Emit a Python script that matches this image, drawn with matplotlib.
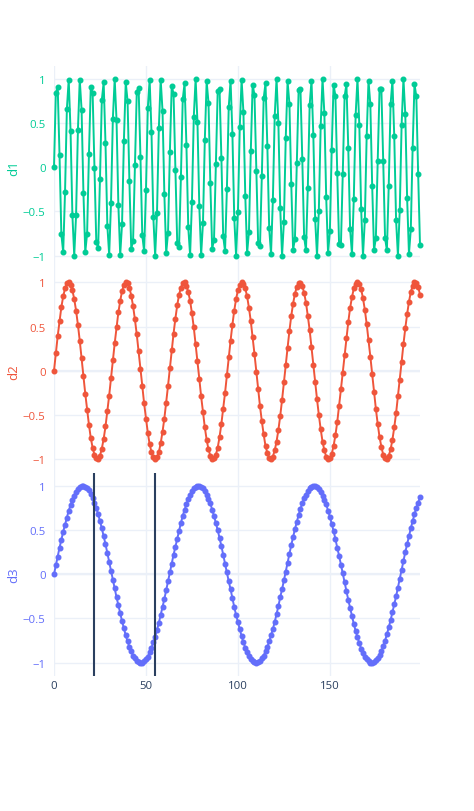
#!/usr/bin/env python3
# -*- coding: utf-8 -*-
"""Three stacked traces d1/d2/d3 sharing one x axis, with two markers on d3."""

import matplotlib

matplotlib.use("Agg")

import matplotlib.pyplot as plt
from matplotlib.ticker import FuncFormatter


X_VALUES = list(range(200))

D1_VALUES = [
    0.00, 0.84, 0.91, 0.14, -0.76, -0.96, -0.28,
    0.66, 0.99, 0.41, -0.54, -1.00, -0.54,
    0.42, 0.99, 0.65, -0.29, -0.96, -0.75,
    0.15, 0.91, 0.84, -0.01, -0.85, -0.91, -0.13,
    0.76, 0.96, 0.27, -0.66, -0.99, -0.40,
    0.55, 1.00, 0.53, -0.43, -0.99, -0.64,
    0.30, 0.96, 0.75, -0.16, -0.92, -0.83,
    0.02, 0.85, 0.90, 0.12, -0.77, -0.95, -0.26,
    0.67, 0.99, 0.40, -0.56, -1.00, -0.52,
    0.44, 0.99, 0.64, -0.30, -0.97, -0.74,
    0.17, 0.92, 0.83, -0.03, -0.86, -0.90, -0.11,
    0.77, 0.95, 0.25, -0.68, -0.99, -0.39,
    0.57, 1.00, 0.51, -0.44, -0.99, -0.63,
    0.31, 0.97, 0.73, -0.18, -0.92, -0.82,
    0.04, 0.86, 0.89, 0.11, -0.78, -0.95, -0.25,
    0.68, 0.98, 0.38, -0.57, -1.00, -0.51,
    0.45, 0.99, 0.62, -0.32, -0.97, -0.73,
    0.18, 0.93, 0.82, -0.04, -0.86, -0.89, -0.10,
    0.78, 0.95, 0.24, -0.69, -0.98, -0.37,
    0.58, 1.00, 0.50, -0.46, -1.00, -0.62,
    0.33, 0.97, 0.72, -0.19, -0.93, -0.81,
    0.05, 0.87, 0.89, 0.09, -0.79, -0.94, -0.23,
    0.70, 0.98, 0.36, -0.59, -1.00, -0.49,
    0.47, 1.00, 0.61, -0.34, -0.97, -0.72,
    0.20, 0.93, 0.81, -0.06, -0.87, -0.88, -0.08,
    0.80, 0.94, 0.22, -0.70, -0.98, -0.36,
    0.59, 1.00, 0.48, -0.47, -1.00, -0.60,
    0.35, 0.98, 0.71, -0.21, -0.94, -0.80,
    0.07, 0.88, 0.88, 0.07, -0.80, -0.94, -0.21,
    0.71, 0.98, 0.35, -0.60, -1.00, -0.48,
    0.48, 1.00, 0.60, -0.35, -0.98, -0.70,
    0.22, 0.94, 0.80, -0.08, -0.88,
]

D2_VALUES = [
    0.00, 0.20, 0.39, 0.56, 0.72, 0.84, 0.93, 0.99, 1.00, 0.97,
    0.91, 0.81, 0.68, 0.52, 0.34, 0.14, -0.06, -0.26, -0.44, -0.61,
    -0.76, -0.87, -0.95, -0.99, -1.00, -0.96, -0.88, -0.77, -0.63, -0.46,
    -0.28, -0.08, 0.12, 0.31, 0.49, 0.66, 0.79, 0.90, 0.97, 1.00,
    0.99, 0.94, 0.85, 0.73, 0.58, 0.41, 0.22, 0.02, -0.17, -0.37,
    -0.54, -0.70, -0.83, -0.92, -0.98, -1.00, -0.98, -0.92, -0.82, -0.69,
    -0.54, -0.36, -0.17, 0.03, 0.23, 0.42, 0.59, 0.74, 0.86, 0.94,
    0.99, 1.00, 0.96, 0.89, 0.79, 0.65, 0.49, 0.30, 0.11, -0.09,
    -0.29, -0.47, -0.64, -0.78, -0.89, -0.96, -1.00, -0.99, -0.95, -0.87,
    -0.75, -0.60, -0.43, -0.25, -0.05, 0.15, 0.34, 0.52, 0.68, 0.81,
    0.91, 0.97, 1.00, 0.98, 0.93, 0.84, 0.71, 0.56, 0.38, 0.19,
    -0.01, -0.21, -0.40, -0.57, -0.72, -0.85, -0.93, -0.99, -1.00, -0.97,
    -0.90, -0.80, -0.67, -0.51, -0.33, -0.13, 0.07, 0.26, 0.45, 0.62,
    0.76, 0.87, 0.95, 0.99, 0.99, 0.96, 0.88, 0.77, 0.62, 0.46,
    0.27, 0.07, -0.13, -0.32, -0.50, -0.66, -0.80, -0.90, -0.97, -1.00,
    -0.99, -0.94, -0.85, -0.73, -0.58, -0.40, -0.21, -0.02, 0.18, 0.37,
    0.55, 0.71, 0.83, 0.93, 0.98, 1.00, 0.98, 0.92, 0.82, 0.69,
    0.53, 0.35, 0.16, -0.04, -0.24, -0.43, -0.60, -0.75, -0.86, -0.95,
    -0.99, -1.00, -0.96, -0.89, -0.78, -0.64, -0.48, -0.29, -0.10, 0.10,
    0.30, 0.48, 0.64, 0.78, 0.89, 0.96, 1.00, 0.99, 0.95, 0.86,
]

D3_VALUES = [
    0.00, 0.10, 0.20, 0.30, 0.39, 0.48, 0.56, 0.64, 0.72, 0.78,
    0.84, 0.89, 0.93, 0.96, 0.99, 1.00, 1.00, 0.99, 0.97, 0.95,
    0.91, 0.86, 0.81, 0.75, 0.68, 0.60, 0.52, 0.43, 0.34, 0.24,
    0.14, 0.04, -0.06, -0.16, -0.26, -0.35, -0.44, -0.53, -0.61, -0.69,
    -0.76, -0.82, -0.87, -0.92, -0.95, -0.98, -0.99, -1.00, -1.00, -0.98,
    -0.96, -0.93, -0.88, -0.83, -0.77, -0.71, -0.63, -0.55, -0.46, -0.37,
    -0.28, -0.18, -0.08, 0.02, 0.12, 0.22, 0.31, 0.40, 0.49, 0.58,
    0.66, 0.73, 0.79, 0.85, 0.90, 0.94, 0.97, 0.99, 1.00, 1.00,
    0.99, 0.97, 0.94, 0.90, 0.85, 0.80, 0.73, 0.66, 0.58, 0.50,
    0.41, 0.32, 0.22, 0.12, 0.02, -0.08, -0.17, -0.27, -0.37, -0.46,
    -0.54, -0.62, -0.70, -0.77, -0.83, -0.88, -0.92, -0.96, -0.98, -0.99,
    -1.00, -0.99, -0.98, -0.95, -0.92, -0.87, -0.82, -0.76, -0.69, -0.62,
    -0.54, -0.45, -0.36, -0.26, -0.17, -0.07, 0.03, 0.13, 0.23, 0.33,
    0.42, 0.51, 0.59, 0.67, 0.74, 0.80, 0.86, 0.90, 0.94, 0.97,
    0.99, 1.00, 1.00, 0.99, 0.96, 0.93, 0.89, 0.84, 0.79, 0.72,
    0.65, 0.57, 0.49, 0.40, 0.30, 0.21, 0.11, 0.01, -0.09, -0.19,
    -0.29, -0.38, -0.47, -0.56, -0.64, -0.71, -0.78, -0.84, -0.89, -0.93,
    -0.96, -0.98, -1.00, -1.00, -0.99, -0.97, -0.95, -0.91, -0.87, -0.81,
    -0.75, -0.68, -0.60, -0.52, -0.43, -0.34, -0.25, -0.15, -0.05, 0.05,
    0.15, 0.25, 0.34, 0.43, 0.52, 0.60, 0.68, 0.75, 0.81, 0.87,
]

SERIES_NAMES = ["d1", "d2", "d3"]
SERIES_COLORS = ["#00cc96", "#ef553b", "#636efa"]
MARKER_X = [22, 55]

Y_TICKS = [-1, -0.5, 0, 0.5, 1]
X_TICKS = [0, 50, 100, 150]

FIG_W, FIG_H = 474, 812
PLOT_LEFT, PLOT_RIGHT = 54, 420
PLOT_TOP, PLOT_BOTTOM = 66.5, 677
GRID_COLOR = "#ebf0f8"
TEXT_COLOR = "#2a3f5f"


def tick_label(value, _pos):
    if value == int(value):
        text = "{0:d}".format(int(value))
    else:
        text = "{0:g}".format(value)
    return text.replace("-", "\u2212")


def main():
    plt.rcParams["font.family"] = ["Open Sans", "DejaVu Sans"]
    fig = plt.figure(figsize=(FIG_W / 100, FIG_H / 100), dpi=100)

    panel_h = (PLOT_BOTTOM - PLOT_TOP) / 3
    label_x = (20 - PLOT_LEFT) / (PLOT_RIGHT - PLOT_LEFT)
    series = [D1_VALUES, D2_VALUES, D3_VALUES]
    axes = []
    for i, (name, values, color) in enumerate(zip(SERIES_NAMES, series, SERIES_COLORS)):
        top = PLOT_TOP + i * panel_h
        rect = [
            PLOT_LEFT / FIG_W,
            1 - (top + panel_h) / FIG_H,
            (PLOT_RIGHT - PLOT_LEFT) / FIG_W,
            panel_h / FIG_H,
        ]
        ax = fig.add_axes(rect, sharex=axes[0] if axes else None)
        axes.append(ax)

        ax.plot(
            X_VALUES, values, color=color, lw=1.4, marker="o", ms=3.3,
            mec=color, mfc=color, zorder=3, clip_on=False,
        )
        ax.set_xlim(0, 199)
        ax.set_ylim(-1.15, 1.15)
        ax.set_yticks(Y_TICKS)
        ax.yaxis.set_major_formatter(FuncFormatter(tick_label))
        ax.set_xticks(X_TICKS)
        ax.grid(True, color=GRID_COLOR, lw=1, zorder=0)
        ax.axhline(0, color=GRID_COLOR, lw=1.6, zorder=1)
        ax.set_axisbelow(True)
        for spine in ax.spines.values():
            spine.set_visible(False)
        ax.tick_params(axis="y", length=0, pad=6, labelsize=8.2, labelcolor=color)
        ax.tick_params(axis="x", length=0, pad=3, labelsize=8.2, labelcolor=TEXT_COLOR)
        ax.set_ylabel(name, color=color, fontsize=9.5)
        ax.yaxis.set_label_coords(label_x, 0.5)
        if i < 2:
            ax.tick_params(axis="x", labelbottom=False)

    for x in MARKER_X:
        axes[2].axvline(x, color=TEXT_COLOR, lw=1.5, zorder=5)

    fig.savefig("out.png", dpi=100, facecolor="white")
    plt.close(fig)


if __name__ == "__main__":
    main()
